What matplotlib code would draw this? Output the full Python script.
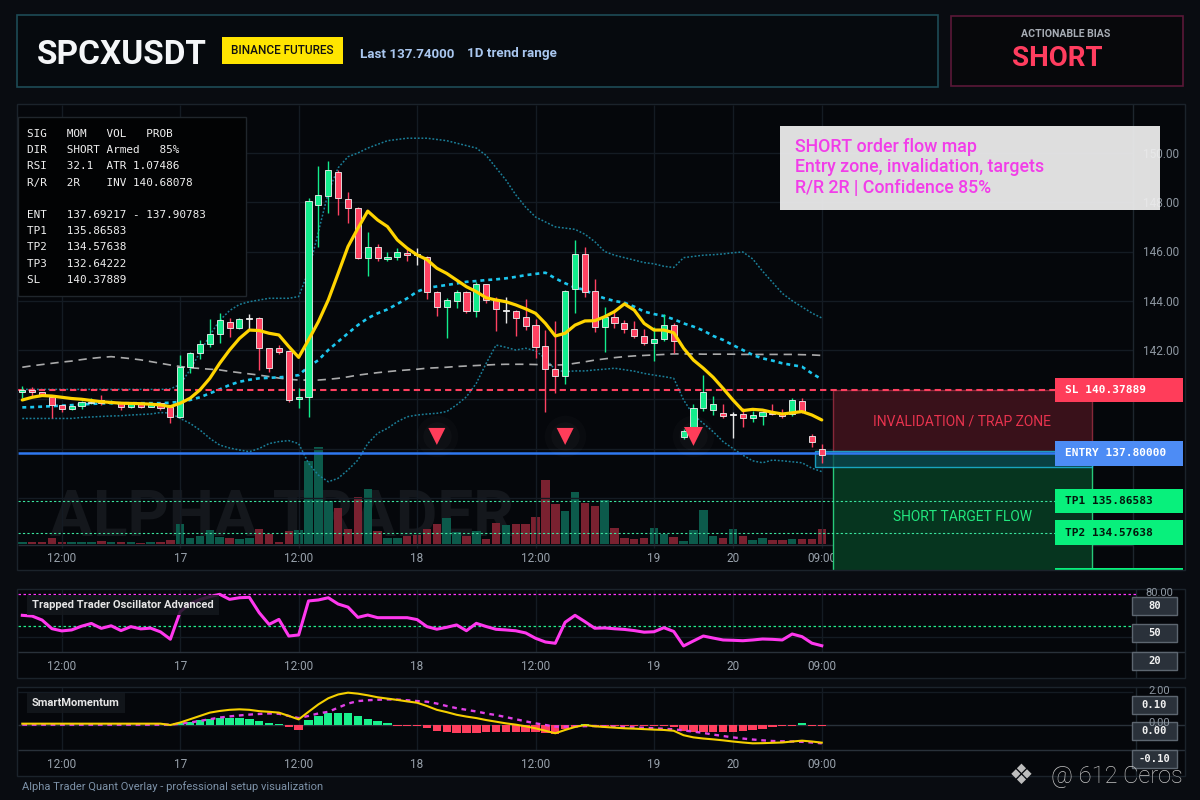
import numpy as np
import matplotlib.pyplot as plt
import matplotlib.transforms as mtransforms
from matplotlib.patches import Rectangle

plt.rcParams['font.family'] = ['Roboto', 'DejaVu Sans']

# ---------------- data ----------------
symbol = 'SPCXUSDT'
exchange = 'BINANCE FUTURES'
last_price = 137.74
bias = 'SHORT'
confidence = 85
rr = '2R'
rsi = 32.1
atr = 1.07486
invalidation = 140.68078
entry = 137.80
entry_lo, entry_hi = 137.69217, 137.90783
stop = 140.37889
tp1, tp2, tp3 = 135.86583, 134.57638, 132.64222

tick_pos = [4, 16, 28, 40, 52, 64, 72, 81]
tick_labels = ['12:00', '17', '12:00', '18', '12:00', '19', '20', '09:00']
price_ticks = [142, 144, 146, 148, 150]

opens = [140.28, 140.38, 140.28, 140.10, 139.75, 139.62, 139.72, 139.86, 139.97, 139.84,
         139.84, 139.68, 139.84, 139.70, 139.84, 139.67, 139.27, 141.30, 141.86, 142.23,
         142.65, 143.15, 142.91, 143.25, 143.28, 142.07, 142.07, 141.96, 140.00, 140.08,
         147.90, 148.27, 149.22, 148.12, 147.75, 145.72, 146.20, 145.70, 145.76, 145.93,
         145.87, 145.79, 144.34, 143.76, 144.00, 144.34, 143.60, 144.67, 144.03, 143.59,
         143.58, 143.32, 143.00, 142.16, 141.21, 140.96, 144.46, 145.89, 144.40, 142.92,
         143.33, 143.08, 142.84, 142.58, 142.27, 142.43, 143.02, 138.45, 138.82, 139.63,
         139.56, 139.43, 139.37, 139.39, 139.25, 139.33, 139.46, 139.43, 139.40, 139.93,
         138.50, 138.00]
highs = [140.54, 140.48, 140.31, 140.12, 139.77, 139.75, 139.92, 140.07, 140.17, 139.97,
         139.86, 139.84, 139.87, 139.86, 139.87, 139.70, 141.80, 141.90, 142.41, 143.25,
         143.49, 143.29, 143.30, 143.46, 143.33, 142.10, 142.20, 142.00, 140.47, 148.16,
         149.47, 149.69, 149.30, 148.42, 147.80, 146.80, 146.29, 145.97, 146.16, 146.10,
         146.13, 145.80, 144.40, 144.10, 144.44, 144.40, 144.75, 144.70, 144.14, 144.14,
         143.62, 144.06, 143.26, 142.80, 143.18, 144.44, 146.47, 146.20, 144.87, 143.73,
         143.58, 143.22, 143.18, 142.84, 142.95, 143.46, 143.10, 138.78, 139.81, 141.00,
         140.13, 139.81, 139.50, 139.63, 139.53, 139.50, 139.81, 139.60, 140.05, 140.05,
         138.58, 138.20]
lows = [140.05, 140.13, 140.13, 139.22, 139.50, 139.55, 139.60, 139.82, 139.77, 139.80,
        139.57, 139.65, 139.66, 139.67, 139.58, 139.02, 139.25, 141.08, 141.62, 142.13,
        142.30, 142.54, 142.85, 142.81, 141.19, 141.12, 141.84, 139.87, 139.63, 139.29,
        146.20, 147.58, 147.48, 147.14, 145.70, 145.02, 145.63, 145.61, 145.65, 145.63,
        145.45, 144.06, 143.38, 142.50, 143.72, 143.52, 143.35, 143.92, 142.77, 143.10,
        142.57, 142.81, 141.69, 139.50, 140.24, 140.60, 143.49, 144.17, 142.74, 141.93,
        142.91, 142.68, 142.50, 142.20, 141.57, 142.38, 141.86, 138.40, 138.80, 139.53,
        139.36, 139.25, 138.44, 138.89, 139.09, 138.97, 139.38, 139.25, 139.33, 139.44,
        138.07, 137.42]
closes = [140.38, 140.28, 140.17, 139.75, 139.62, 139.73, 139.88, 139.90, 139.84, 139.88,
          139.68, 139.81, 139.70, 139.84, 139.63, 139.27, 141.30, 141.86, 142.23, 142.65,
          143.22, 142.91, 143.25, 143.28, 142.07, 141.26, 141.93, 139.97, 140.08, 148.05,
          148.30, 149.30, 148.16, 147.75, 145.72, 146.20, 145.72, 145.78, 145.97, 145.84,
          145.84, 144.37, 143.76, 144.03, 144.34, 143.60, 144.68, 144.03, 143.65, 143.61,
          143.29, 142.99, 142.14, 141.21, 140.96, 144.40, 145.89, 144.37, 142.95, 143.35,
          143.08, 142.84, 142.58, 142.27, 142.43, 143.02, 142.38, 138.70, 139.63, 140.28,
          139.81, 139.33, 139.39, 139.25, 139.36, 139.48, 139.40, 139.33, 139.97, 139.50,
          138.25, 137.74]
volume_k = [1.7, 1.7, 1.7, 6, 1.7, 1.7, 1.7, 1.7, 3, 1.7,
            1.7, 1.7, 0.7, 1.7, 1.7, 4, 20, 6, 8, 14,
            7, 6, 5, 6, 15, 10, 2, 13, 14, 83,
            97, 43, 36, 15, 47, 55, 13, 6, 6, 8,
            9, 15, 20, 26, 12, 8, 13, 5, 21, 19,
            20, 20, 27, 64, 40, 33, 52, 41, 38, 44,
            16, 6, 5, 6, 16, 10, 7, 3, 14, 34,
            8, 6, 15, 8, 4, 6, 4, 4, 5, 5,
            5, 15]
ema_fast = [139.97, 140.08, 140.15, 140.13, 140.08, 140.03, 140.00, 139.95, 139.90, 139.87,
            139.84, 139.83, 139.82, 139.80, 139.77, 139.70, 139.84, 140.04, 140.38, 140.85,
            141.46, 142.00, 142.47, 142.81, 142.79, 142.68, 142.61, 142.14, 141.70, 142.41,
            143.15, 144.03, 145.11, 146.20, 146.94, 147.64, 147.28, 147.01, 146.47, 146.13,
            145.86, 145.67, 145.32, 145.11, 144.84, 144.57, 144.37, 144.12, 144.03, 143.96,
            143.83, 143.67, 143.49, 143.08, 142.57, 142.68, 143.01, 143.18, 143.19, 143.35,
            143.56, 143.87, 143.62, 143.08, 142.81, 142.81, 142.70, 142.07, 141.59, 141.26,
            140.89, 140.44, 139.97, 139.54, 139.59, 139.56, 139.47, 139.40, 139.45, 139.50,
            139.36, 139.16]
ema_mid = [139.67, 139.68, 139.70, 139.72, 139.74, 139.76, 139.79, 139.81, 139.83, 139.84,
           139.84, 139.84, 139.84, 139.84, 139.84, 139.86, 139.90, 139.97, 140.08, 140.24,
           140.40, 140.58, 140.71, 140.79, 140.85, 140.87, 140.89, 140.92, 140.98, 141.32,
           141.59, 142.00, 142.34, 142.68, 143.01, 143.29, 143.49, 143.65, 143.87, 144.10,
           144.37, 144.52, 144.58, 144.64, 144.70, 144.77, 144.80, 144.84, 144.87, 144.91,
           144.97, 145.04, 145.09, 145.14, 144.91, 144.71, 144.54, 144.44, 144.23, 144.10,
           143.99, 143.92, 143.76, 143.56, 143.46, 143.38, 143.25, 143.08, 142.95, 142.79,
           142.57, 142.41, 142.20, 142.00, 141.80, 141.66, 141.57, 141.46, 141.39, 141.32,
           141.05, 140.81]
sma_slow = [141.30, 141.36, 141.41, 141.46, 141.51, 141.55, 141.61, 141.66, 141.70, 141.73,
            141.69, 141.65, 141.60, 141.53, 141.46, 141.39, 141.33, 141.28, 141.25, 141.22,
            141.19, 141.13, 141.08, 141.03, 140.98, 140.92, 140.86, 140.81, 140.78, 140.78,
            140.78, 140.81, 140.85, 140.91, 140.98, 141.03, 141.08, 141.12, 141.16, 141.19,
            141.22, 141.26, 141.28, 141.30, 141.33, 141.35, 141.37, 141.39, 141.41, 141.42,
            141.42, 141.42, 141.41, 141.39, 141.39, 141.40, 141.46, 141.52, 141.59, 141.64,
            141.69, 141.73, 141.76, 141.78, 141.80, 141.82, 141.84, 141.84, 141.84, 141.83,
            141.83, 141.83, 141.83, 141.82, 141.82, 141.82, 141.82, 141.82, 141.82, 141.81,
            141.80, 141.78]
bb_upper = [140.40, 140.40, 140.40, 140.40, 140.40, 140.40, 140.40, 140.40, 140.40, 140.40,
            140.40, 140.40, 140.40, 140.40, 140.40, 140.42, 140.60, 141.20, 141.90, 142.60,
            143.20, 143.60, 143.85, 143.96, 144.03, 144.10, 144.10, 144.10, 144.17, 145.20,
            146.80, 148.40, 149.40, 149.85, 150.00, 150.20, 150.35, 150.50, 150.55, 150.60,
            150.60, 150.60, 150.55, 150.50, 150.40, 150.30, 150.20, 149.90, 149.40, 148.90,
            148.30, 147.80, 147.40, 147.20, 147.00, 146.95, 146.90, 146.70, 146.40, 146.00,
            145.85, 145.75, 145.65, 145.55, 145.50, 145.40, 145.35, 145.75, 145.80, 145.85,
            145.87, 145.90, 145.95, 145.98, 145.70, 145.20, 144.75, 144.30, 144.00, 143.75,
            143.50, 143.30]
bb_lower = [139.22, 139.22, 139.22, 139.22, 139.22, 139.22, 139.26, 139.28, 139.30, 139.32,
            139.33, 139.36, 139.38, 139.40, 139.46, 139.44, 139.22, 139.02, 138.75, 138.41,
            138.14, 138.02, 137.94, 137.87, 138.00, 138.20, 138.28, 138.32, 138.20, 137.40,
            136.92, 136.65, 136.79, 137.13, 137.53, 138.20, 138.62, 138.82, 139.09, 139.29,
            139.36, 139.40, 139.43, 139.50, 139.77, 140.10, 140.65, 141.46, 142.20, 142.11,
            142.00, 142.07, 141.97, 141.66, 141.19, 141.12, 141.15, 141.15, 141.19, 141.22,
            141.26, 141.20, 141.14, 141.05, 140.98, 140.92, 140.85, 139.97, 139.36, 139.02,
            138.68, 138.28, 138.00, 137.73, 137.50, 137.42, 137.53, 137.50, 137.46, 137.42,
            137.20, 137.06]
signal_idx = [42, 55, 68]
signal_price = [138.49, 138.49, 138.49]

trapped_osc = [60.0, 59.3, 55.6, 47.5, 45.4, 46.3, 49.8, 52.4, 47.8, 50.2,
               45.7, 49.4, 47.3, 48.0, 44.5, 37.6, 63.4, 71.0, 74.8, 77.5,
               79.7, 75.0, 76.5, 76.9, 62.5, 51.5, 56.2, 40.6, 41.6, 73.5,
               74.4, 76.5, 70.6, 67.7, 58.1, 60.3, 57.8, 57.8, 57.8, 57.8,
               56.0, 49.4, 47.0, 48.8, 51.0, 45.6, 52.5, 49.5, 46.9, 46.3,
               45.5, 43.5, 38.5, 35.0, 33.8, 53.5, 60.0, 54.1, 47.9, 48.2,
               47.4, 46.8, 45.7, 44.2, 44.6, 48.4, 44.9, 31.3, 36.0, 40.6,
               38.7, 36.9, 36.6, 36.2, 36.9, 37.8, 37.5, 36.9, 42.5, 40.0,
               33.9, 31.5]
osc_levels = [80, 50]

mom_fast = [0.08, 0.08, 0.08, 0.08, 0.08, 0.08, 0.08, 0.08, 0.08, 0.08,
            0.08, 0.08, 0.08, 0.08, 0.08, 0.00, 0.15, 0.35, 0.55, 0.75,
            0.85, 0.92, 0.95, 0.92, 0.84, 0.80, 0.75, 0.55, 0.34, 0.80,
            1.25, 1.62, 1.85, 1.96, 1.90, 1.80, 1.68, 1.60, 1.52, 1.43,
            1.35, 1.15, 0.92, 0.78, 0.62, 0.51, 0.42, 0.30, 0.20, 0.10,
            0.02, -0.08, -0.20, -0.35, -0.50, -0.30, -0.12, 0.00, -0.08, -0.12,
            -0.16, -0.20, -0.22, -0.25, -0.28, -0.30, -0.35, -0.62, -0.75, -0.82,
            -0.87, -0.93, -1.00, -1.06, -1.11, -1.10, -1.08, -1.06, -1.00, -0.95,
            -1.00, -1.07]
mom_signal = [0.02, 0.02, 0.02, 0.02, 0.02, 0.02, 0.02, 0.02, 0.02, 0.02,
              0.02, 0.02, 0.02, 0.02, 0.02, 0.02, 0.08, 0.15, 0.25, 0.35,
              0.45, 0.52, 0.58, 0.63, 0.67, 0.70, 0.68, 0.55, 0.42, 0.55,
              0.70, 0.80, 1.05, 1.30, 1.45, 1.50, 1.53, 1.55, 1.54, 1.50,
              1.45, 1.41, 1.30, 1.15, 1.02, 0.92, 0.82, 0.70, 0.60, 0.48,
              0.35, 0.22, 0.10, 0.00, -0.10, -0.10, -0.08, -0.07, -0.06, -0.08,
              -0.10, -0.12, -0.14, -0.17, -0.20, -0.23, -0.26, -0.33, -0.40, -0.48,
              -0.58, -0.67, -0.75, -0.82, -0.88, -0.93, -0.97, -0.99, -1.00, -1.02,
              -1.06, -1.11]
mom_hist = [0.03, 0.03, 0.03, 0.03, 0.03, 0.03, 0.03, 0.03, 0.03, 0.03,
            0.03, 0.03, 0.03, 0.03, 0.03, 0.03, 0.12, 0.18, 0.30, 0.38,
            0.42, 0.42, 0.40, 0.34, 0.22, 0.12, 0.08, -0.12, -0.28, 0.28,
            0.55, 0.72, 0.75, 0.72, 0.55, 0.34, 0.22, 0.10, -0.04, -0.04,
            -0.08, -0.16, -0.38, -0.44, -0.46, -0.50, -0.46, -0.42, -0.42, -0.42,
            -0.42, -0.42, -0.44, -0.48, -0.52, -0.25, -0.10, 0.06, -0.06, -0.06,
            -0.06, -0.06, -0.06, -0.06, -0.06, -0.08, -0.10, -0.38, -0.42, -0.45,
            -0.45, -0.42, -0.40, -0.35, -0.30, -0.25, -0.15, -0.08, -0.05, 0.10,
            -0.06, -0.06]

# ---------------- layout helpers ----------------
W, H = 1200, 800
BG = '#090c11'
PANEL = '#05070b'
GRID = '#141b23'
TICK = '#98a1ab'
GREEN = '#12ec8c'
RED = '#ff4262'
MONO = 'DejaVu Sans Mono'

fig = plt.figure(figsize=(W / 100, H / 100), dpi=100, facecolor=BG)
pix = mtransforms.Affine2D().scale(1.0 / W, -1.0 / H).translate(0, 1) + fig.transFigure


def rect(x0, y0, x1, y1):
    return [x0 / W, 1 - y1 / H, (x1 - x0) / W, (y1 - y0) / H]


def px2i(px):
    return (px - 22.3) / 9.87


def price_at(py):
    return 150 - (py - 153) / 24.625


def osc_at(py):
    return 80 - (py - 594) / 1.0667


def mom_at(py):
    return (725 - py) / 16.5


XLIM = (px2i(18), px2i(1185))
idx = np.arange(len(opens))
o, hi, lo, c = (np.array(a) for a in (opens, highs, lows, closes))
up = c >= o
doji = np.abs(c - o) < 0.035

# ---------------- main price panel ----------------
vol_ax = fig.add_axes(rect(18, 105, 1185, 570))
vol_ax.set_facecolor(PANEL)
ax = vol_ax.twinx()
for a in (vol_ax, ax):
    a.set_xlim(*XLIM)
    for s in a.spines.values():
        s.set_visible(False)

vol_ax.set_ylim(-26, 439)
vol_ax.set_yticks([])
vol_ax.text(50, 549, 'ALPHA TRADER', transform=pix, fontsize=46, fontweight='bold',
            color='#14171c', va='bottom', ha='left', zorder=0, clip_on=True)
vol_ax.bar(idx, volume_k, width=0.86, color=np.where(up, '#0c5a4b', '#7a2130'), zorder=1)
vol_ax.set_xticks(tick_pos, tick_labels)
vol_ax.tick_params(axis='x', length=0, pad=-13, labelsize=8.5, labelcolor=TICK)

ax.set_ylim(price_at(570), price_at(105))
ax.set_yticks(price_ticks, [f'{p:.2f}' for p in price_ticks])
ax.tick_params(axis='y', length=0, pad=-30.5, labelsize=8.5, labelcolor='#8f98a2')

ax.hlines(np.arange(136, 151, 2), px2i(18), px2i(1133), color=GRID, lw=1, zorder=0.5)
ax.vlines(tick_pos, price_at(548), price_at(105), color=GRID, lw=1, zorder=0.5)
ax.hlines(price_at(544.5), px2i(18), px2i(1133), color='#262e37', lw=1, zorder=0.6)
ax.axvline(px2i(1133), color='#1e262e', lw=1, zorder=0.6)

# zones on the right
zx0, zx1 = px2i(833), px2i(1092)
ax.add_patch(Rectangle((zx0, entry), zx1 - zx0, stop - entry, fc='#3c121b', ec='#8c2a3c',
                       lw=1, alpha=0.95, zorder=1))
ax.add_patch(Rectangle((zx0, price_at(575)), zx1 - zx0, entry - price_at(575), fc='#06351f',
                       ec='#27c97a', lw=1, zorder=1))
ax.add_patch(Rectangle((px2i(815), entry - 0.55), zx1 - px2i(815), entry_hi - entry + 0.55,
                       fc='#0b4450', ec='#1ec8f0', lw=1, alpha=0.75, zorder=3))
ax.text((zx0 + zx1) / 2, (stop + entry) / 2, 'INVALIDATION / TRAP ZONE', color='#e8334e',
        fontsize=10, ha='center', va='center', zorder=3)
ax.text((zx0 + zx1) / 2, (tp1 + tp2) / 2, f'{bias} TARGET FLOW', color='#22e87f',
        fontsize=10, ha='center', va='center', zorder=3)

# indicator lines
ax.plot(idx, bb_upper, color='#1b7f99', lw=1.1, ls=(0, (1.2, 1.2)), zorder=2)
ax.plot(idx, bb_lower, color='#1b7f99', lw=1.1, ls=(0, (1.2, 1.2)), zorder=2)
ax.plot(idx, sma_slow, color='#c8c8c8', lw=1.2, ls=(0, (5, 3.5)), alpha=0.85, zorder=2)
ax.plot(idx, ema_mid, color='#1cc6ee', lw=1.9, ls=(0, (1.5, 1.5)), zorder=2.5)

# levels
lx1 = px2i(1055)
ax.hlines([tp1, tp2], px2i(18), lx1, color='#3be6a0', lw=0.8, ls=(0, (2, 2)), zorder=3)
ax.hlines(stop, px2i(18), lx1, color='#ff4060', lw=1.5, ls=(0, (3, 2)), zorder=3)
ax.hlines(entry, px2i(18), lx1, color='#2f78f0', lw=1.8, zorder=3.5)

# candles
ccol = np.where(doji, '#e6e6e6', np.where(up, GREEN, RED))
ax.vlines(idx, lo, hi, colors=ccol, lw=1.0, zorder=4)
ax.bar(idx, np.maximum(np.abs(c - o), 0.04), bottom=np.minimum(o, c), width=0.62,
       color=ccol, edgecolor='#f2f2f2', linewidth=0.6, zorder=5)
ax.plot(idx, ema_fast, color='#ffd400', lw=2.3, zorder=6, solid_capstyle='round')

# signal markers with a faint halo
ax.scatter(signal_idx, signal_price, s=900, color='#ffffff', alpha=0.018, lw=0, zorder=6.5)
ax.scatter(signal_idx, signal_price, s=420, color='#ffffff', alpha=0.022, lw=0, zorder=6.5)
ax.scatter(signal_idx, signal_price, s=[150, 150, 185], marker='v', color='#ff3d5a',
           lw=0, zorder=7)

# right-side level labels
lab_x0, lab_x1 = px2i(1055), px2i(1183)
labels = [(stop, f'SL {stop:.5f}', '#ff3d5a', 'white'),
          (entry, f'ENTRY {entry:.5f}', '#4d8cf5', 'white'),
          (tp1, f'TP1 {tp1:.5f}', '#08f07c', '#04160c'),
          (tp2, f'TP2 {tp2:.5f}', '#08f07c', '#04160c'),
          (tp3, f'TP3 {tp3:.5f}', '#08f07c', '#04160c')]
for lvl, txt, fc, tc in labels:
    ax.add_patch(Rectangle((lab_x0, lvl - 0.5), lab_x1 - lab_x0, 1.0, fc=fc, ec='none', zorder=8))
    ax.text(px2i(1065), lvl, txt, color=tc, fontsize=8, family=MONO, fontweight='bold',
            ha='left', va='center', zorder=9, clip_on=True)

# ---------------- trapped trader oscillator ----------------
osc_ax = fig.add_axes(rect(18, 589, 1185, 678))
osc_ax.set_facecolor(PANEL)
osc_ax.set_xlim(*XLIM)
osc_ax.set_ylim(osc_at(678), osc_at(589))
for s in osc_ax.spines.values():
    s.set_visible(False)
osc_ax.set_yticks([])
osc_ax.set_xticks(tick_pos, tick_labels)
osc_ax.tick_params(axis='x', length=0, pad=-13, labelsize=8.5, labelcolor=TICK)
osc_ax.vlines(tick_pos, osc_at(652), osc_at(589), color=GRID, lw=1, zorder=0.5)
osc_ax.vlines([1136], 589, 678, transform=pix, color='#1e262e', lw=1, zorder=0.5)
osc_ax.hlines([637], 18, 1133, transform=pix, color=GRID, lw=1, zorder=0.5)
osc_ax.hlines([652], 18, 1185, transform=pix, color='#29313a', lw=1, zorder=0.5)
osc_ax.hlines(osc_levels[0], px2i(18), px2i(1136), color='#ff30ff', lw=0.9, ls=(0, (2, 2)))
osc_ax.hlines(osc_levels[1], px2i(18), px2i(1133), color='#22f08c', lw=0.9, ls=(0, (2, 2)))
osc_ax.plot(idx, trapped_osc, color='#ff38ee', lw=2.2, zorder=3)

# ---------------- smart momentum ----------------
mom_ax = fig.add_axes(rect(18, 687, 1185, 776))
mom_ax.set_facecolor(PANEL)
mom_ax.set_xlim(*XLIM)
mom_ax.set_ylim(mom_at(776), mom_at(687))
for s in mom_ax.spines.values():
    s.set_visible(False)
mom_ax.set_yticks([])
mom_ax.set_xticks(tick_pos, tick_labels)
mom_ax.tick_params(axis='x', length=0, pad=-13, labelsize=8.5, labelcolor=TICK)
mom_ax.vlines(tick_pos, mom_at(750), mom_at(687), color=GRID, lw=1, zorder=0.5)
mom_ax.vlines([1136], 687, 776, transform=pix, color='#1e262e', lw=1, zorder=0.5)
mom_ax.hlines([692], 18, 1133, transform=pix, color=GRID, lw=1, zorder=0.5)
mom_ax.hlines([725, 750], 18, 1185, transform=pix, color='#29313a', lw=1, zorder=0.5)
hist = np.array(mom_hist)
mom_ax.bar(idx, hist, width=0.85, color=np.where(hist >= 0, '#19f08c', '#ff3f5e'), zorder=2)
mom_ax.plot(idx, mom_signal, color='#e040e6', lw=1.7, ls=(0, (2, 2)), zorder=3)
mom_ax.plot(idx, mom_fast, color='#f5cf00', lw=1.5, zorder=4)

# ---------------- overlay (header, panels, labels) ----------------
ov = fig.add_axes([0, 0, 1, 1], zorder=10)
ov.set_xlim(0, W)
ov.set_ylim(H, 0)
ov.set_axis_off()
ov.patch.set_visible(False)

# header
ov.add_patch(Rectangle((17, 15), 921, 72, fc='#060a0e', ec='#1d4b56', lw=1.2))
ov.text(37, 63.5, symbol, fontsize=24, fontweight='bold', color='#f4f6f8', va='baseline')
ov.add_patch(Rectangle((222, 37), 121, 27, fc='#ffe500', ec='none'))
ov.text(282.5, 50.5, exchange, fontsize=8.5, fontweight='medium', color='#111111',
        ha='center', va='center')
ov.text(360, 57.5, f'Last {last_price:.5f}', fontsize=9.6, fontweight='bold', color='#a9c7ef',
        va='baseline')
ov.text(467, 57.5, '1D trend range', fontsize=9.6, fontweight='bold', color='#a9c7ef',
        va='baseline')

ov.add_patch(Rectangle((951, 16), 232, 70, fc='#07080b', ec='#5a1838', lw=1.2))
ov.text(1066, 34, 'ACTIONABLE BIAS', fontsize=7.6, fontweight='bold', color='#a7adb5',
        ha='center', va='center')
ov.text(1057, 58.5, bias, fontsize=20, fontweight='bold', color='#ff3d5f', ha='center',
        va='center')

# panel frames
for y0, y1 in [(104, 570), (589, 678), (687, 776)]:
    ov.add_patch(Rectangle((17, y0), 1168, y1 - y0, fc='none', ec='#1b232b', lw=1))

# left signal table
ov.add_patch(Rectangle((18, 117), 228, 179, fc='#020304', ec='#20262c', lw=1))
table = [
    'SIG   MOM   VOL   PROB',
    f'DIR   {bias} Armed   {confidence}%',
    f'RSI   {rsi:.1f}  ATR {atr:.5f}',
    f'R/R   {rr}    INV {invalidation:.5f}',
    '',
    f'ENT   {entry_lo:.5f} - {entry_hi:.5f}',
    f'TP1   {tp1:.5f}',
    f'TP2   {tp2:.5f}',
    f'TP3   {tp3:.5f}',
    f'SL    {stop:.5f}',
]
for k, line in enumerate(table):
    ov.text(27, 134 + k * 16.2, line, family=MONO, fontsize=7.9, color='#f0f0f0', va='center')

# order flow note
ov.add_patch(Rectangle((780, 126), 380, 84, fc='#ededed', ec='none', alpha=0.94))
note = [f'{bias} order flow map', 'Entry zone, invalidation, targets',
        f'R/R {rr} | Confidence {confidence}%']
for k, line in enumerate(note):
    ov.text(795, 147 + k * 20.5, line, fontsize=12.8, fontweight='medium', color='#f23de9',
            va='center')

# sub-panel titles
ttl = dict(facecolor='#14181d', edgecolor='none', alpha=0.85, pad=3.5)
ov.text(32, 605, 'Trapped Trader Oscillator Advanced', fontsize=8, fontweight='bold',
        color='#e6e6e6', va='center', bbox=ttl)
ov.text(32, 703, 'SmartMomentum', fontsize=8, fontweight='bold', color='#e6e6e6',
        va='center', bbox=ttl)

# sub-panel value boxes
ov.text(1159, 593, '80.00', fontsize=8, color='#8f98a2', ha='center', va='center')
ov.text(1159, 691, '2.00', fontsize=8, color='#8f98a2', ha='center', va='center')
ov.text(1159, 723, '0.00', fontsize=8, color='#8f98a2', ha='center', va='center')
for y0, txt in [(597, '80'), (624, '50'), (652, '20'),
                (696, '0.10'), (722, '0.00'), (750, '-0.10')]:
    ov.add_patch(Rectangle((1132, y0), 45, 18, fc='#2a313a', ec='#5d6670', lw=1))
    ov.text(1154.5, y0 + 9, txt, family=MONO, fontsize=7.6, fontweight='bold', color='#f2f2f2',
            ha='center', va='center')

# footer + watermark
ov.text(22, 787, 'Alpha Trader Quant Overlay - professional setup visualization', fontsize=8,
        color='#7d92a8', va='center')
ov.text(1021, 776, '\u2756', family='DejaVu Sans', fontsize=20, color='#bdbdbd', ha='center',
        va='center')
ov.text(1051, 776, '@ 612 Ceros', fontsize=17, fontweight='light', color='#c4c4c4',
        va='center')

fig.savefig('out.png', dpi=100, facecolor=BG)
